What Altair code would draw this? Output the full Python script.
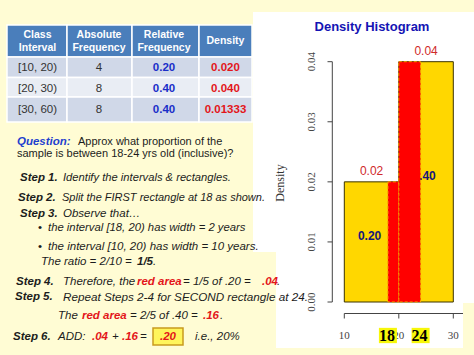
import altair as alt
import pandas as pd

# ---------------- table values ----------------
class_intervals = ["[10, 20)", "[20, 30)", "[30, 60)"]
abs_freq = ["4", "8", "8"]
rel_freq = ["0.20", "0.40", "0.40"]
density_text = ["0.020", "0.040", "0.01333"]
header_lines = [["Class", "Interval"], ["Absolute", "Frequency"],
                ["Relative", "Frequency"], ["Density"]]

# ---------------- histogram values ----------------
bin_lo = [10, 20]
bin_hi = [20, 30]
bin_density = [0.02, 0.04]
bin_rel_lbl = ["0.20", "0.40"]
bin_dens_lbl = ["0.02", "0.04"]
red_lo = [18, 20]
red_hi = [20, 24]
red_density = [0.02, 0.04]
x_ticks = [10, 20, 30]
x_tick_labels = ["10", "20", "30"]
y_ticks = [0.0, 0.01, 0.02, 0.03, 0.04]
y_tick_labels = ["0.00", "0.01", "0.02", "0.03", "0.04"]
x_axis_span = [10, 60]
marked_ages = [18, 24]
marked_labels = ["18", "24"]

# ---------------- styles / layout ----------------
SANS = "Liberation Sans"
SERIF = "Liberation Serif"
BG = "#FFFCD4"
DARK = "#1c1c1c"
RED = "#e3151a"
BLUE = "#1f3fcf"

X = alt.Scale(domain=[10, 30], range=[344.3, 453.3], nice=False, zero=False)
Y = alt.Scale(domain=[0, 0.04], range=[302, 61.7], nice=False, zero=False)


def px(field):
    return alt.X(field, type="quantitative", scale=None, axis=None)


def py(field):
    return alt.Y(field, type="quantitative", scale=None, axis=None)


def rect_layer(rows):
    df = pd.DataFrame(rows, columns=["x", "x2", "y", "y2", "fill", "stroke", "sw"])
    return alt.Chart(df).mark_rect().encode(
        x=px("x"), x2="x2", y=py("y"), y2="y2",
        fill=alt.Fill("fill:N", scale=None),
        stroke=alt.Stroke("stroke:N", scale=None),
        strokeWidth=alt.StrokeWidth("sw:Q", scale=None),
    )


def text_layer(rows, weight="normal", style="normal", font=SANS, align="left", angle=0):
    df = pd.DataFrame(rows, columns=["x", "y", "t", "c", "s"])
    return alt.Chart(df).mark_text(
        align=align, baseline="middle", font=font, fontWeight=weight,
        fontStyle=style, angle=angle,
    ).encode(
        x=px("x"), y=py("y"), text="t:N",
        color=alt.Color("c:N", scale=None),
        size=alt.Size("s:Q", scale=None),
    )


layers = []

# white panel behind the histogram
layers.append(rect_layer([[253, 474, 12, 348, "#ffffff", "#ffffff", 0]]))

# ---------------- table ----------------
col_edges = [7, 67, 132, 199, 252]
row_edges = [25, 57, 77.5, 97, 122]
row_fills = ["#4A7EBB", "#D0D8E8", "#E9EDF4", "#D0D8E8"]
cells = []
for r in range(4):
    for c in range(4):
        cells.append([col_edges[c], col_edges[c + 1], row_edges[r], row_edges[r + 1],
                      row_fills[r], "#ffffff", 1.5])
layers.append(rect_layer(cells))

col_centers = [37.5, 99, 164, 225.5]
hdr = []
for c, lines in enumerate(header_lines):
    ys = [34.5, 47.5] if len(lines) == 2 else [41]
    for t, yy in zip(lines, ys):
        hdr.append([col_centers[c], yy, t, "#ffffff", 10.5])
layers.append(text_layer(hdr, weight="bold", align="center"))

row_y = [68, 88.5, 110]
plain_cells, bold_cells = [], []
for i in range(3):
    plain_cells.append([col_centers[0], row_y[i], class_intervals[i], "#333333", 11.5])
    plain_cells.append([col_centers[1], row_y[i], abs_freq[i], "#333333", 11.5])
    bold_cells.append([col_centers[2], row_y[i], rel_freq[i], "#1a2ec8", 11.5])
    bold_cells.append([col_centers[3], row_y[i], density_text[i], RED, 11.5])
layers.append(text_layer(plain_cells, align="center"))
layers.append(text_layer(bold_cells, weight="bold", align="center"))

# ---------------- histogram ----------------
hist = pd.DataFrame({"lo": bin_lo, "hi": bin_hi, "d": bin_density,
                     "base": [0.0] * len(bin_lo), "rel": bin_rel_lbl, "dl": bin_dens_lbl})
hist["mid"] = (hist["lo"] + hist["hi"]) / 2
hist["half"] = hist["d"] / 2

layers.append(alt.Chart(hist).mark_rect(fill="#FFD700", stroke="#3b3300", strokeWidth=1).encode(
    x=alt.X("lo:Q", scale=X, axis=None), x2="hi",
    y=alt.Y("base:Q", scale=Y, axis=None), y2="d"))

layers.append(alt.Chart(hist).mark_text(font=SANS, fontSize=12, color="#d02a2a", dy=-11).encode(
    x=alt.X("mid:Q", scale=X, axis=None), y=alt.Y("d:Q", scale=Y, axis=None), text="dl:N"))
layers.append(alt.Chart(hist).mark_text(font=SANS, fontSize=12, fontWeight="bold",
                                        color="#16167a", dy=-6, dx=-2).encode(
    x=alt.X("mid:Q", scale=X, axis=None), y=alt.Y("half:Q", scale=Y, axis=None), text="rel:N"))

red = pd.DataFrame({"lo": red_lo, "hi": red_hi, "d": red_density, "base": [0.0] * len(red_lo)})
layers.append(alt.Chart(red).mark_rect(fill="#ff0000", stroke="#f5a300", strokeWidth=1,
                                       strokeDash=[3, 2]).encode(
    x=alt.X("lo:Q", scale=X, axis=None), x2="hi",
    y=alt.Y("base:Q", scale=Y, axis=None), y2="d"))

# axes drawn R style
AX = "#444444"
yt = pd.DataFrame({"v": y_ticks, "lab": y_tick_labels})
layers.append(alt.Chart(pd.DataFrame({"a": [y_ticks[0]], "b": [y_ticks[-1]]})).mark_rule(color=AX).encode(
    x=alt.value(332.3), y=alt.Y("a:Q", scale=Y, axis=None), y2="b"))
layers.append(alt.Chart(yt).mark_rule(color=AX).encode(
    x=alt.value(327.5), x2=alt.value(332.3), y=alt.Y("v:Q", scale=Y, axis=None)))
layers.append(alt.Chart(yt).mark_text(font=SERIF, fontSize=11, color="#444444", angle=270).encode(
    x=alt.value(312), y=alt.Y("v:Q", scale=Y, axis=None), text="lab:N"))

xt = pd.DataFrame({"v": x_ticks, "lab": x_tick_labels})
layers.append(alt.Chart(pd.DataFrame({"a": [x_axis_span[0]], "b": [x_axis_span[1]]})).mark_rule(color=AX).encode(
    y=alt.value(313.5), x=alt.X("a:Q", scale=X, axis=None), x2="b"))
layers.append(alt.Chart(xt).mark_rule(color=AX).encode(
    y=alt.value(313.5), y2=alt.value(318.5), x=alt.X("v:Q", scale=X, axis=None)))
layers.append(alt.Chart(xt).mark_text(font=SERIF, fontSize=11, color="#444444").encode(
    y=alt.value(335.5), x=alt.X("v:Q", scale=X, axis=None), text="lab:N"))

layers.append(text_layer([[372, 27, "Density Histogram", "#1414b4", 13]], weight="bold", align="center"))
layers.append(text_layer([[280, 183, "Density", "#333333", 12]], font=SERIF, align="center", angle=270))

# yellow slide boxes overlapping the panel
layers.append(rect_layer([
    [0, 276, 252, 355, BG, BG, 0],
    [463, 474, 303, 355, BG, BG, 0],
    [253, 474, 348, 355, BG, BG, 0],
]))

# highlighted ages under the x axis
marks = pd.DataFrame({"age": marked_ages, "lab": marked_labels})
layers.append(alt.Chart(marks).mark_point(
    shape="M-1,-0.85H1V0.85H-1Z", filled=True, size=324, color="#f7f70a", opacity=1, strokeWidth=0).encode(
    x=alt.X("age:Q", scale=X, axis=None), y=alt.value(335.5)))
layers.append(alt.Chart(marks).mark_text(font=SERIF, fontSize=16, fontWeight="bold", color="#000000", dx=-1).encode(
    x=alt.X("age:Q", scale=X, axis=None), y=alt.value(336), text="lab:N"))

# ---------------- slide text ----------------
FS = 11.5
segs = [
    (17, 142, "Question:", "bi", BLUE, 11.5),
    (78, 142, "Approx what proportion of the", "n", DARK, 11),
    (17, 154, "sample is between 18-24 yrs old (inclusive)?", "n", DARK, 11),
    (20, 178, "Step 1.", "bi", DARK, FS),
    (63, 178, "Identify the intervals & rectangles.", "i", DARK, 11.2),
    (18, 197.5, "Step 2.", "bi", DARK, FS),
    (62, 197.5, "Split the FIRST rectangle at 18 as shown.", "i", DARK, 11),
    (20, 214, "Step 3.", "bi", DARK, FS),
    (63, 214, "Observe that\u2026", "i", DARK, FS),
    (38, 228, "\u2022", "n", DARK, FS),
    (48, 228, "the interval [18, 20) has width = 2 years", "i", DARK, 11.3),
    (38, 246.5, "\u2022", "n", DARK, FS),
    (48, 246.5, "the interval [10, 20) has width = 10 years.", "i", DARK, FS),
    (41, 262, "The ratio = 2/10 =", "i", DARK, FS),
    (137, 262, "1/5", "bi", DARK, FS),
    (153, 262, ".", "i", DARK, FS),
    (16, 281.5, "Step 4.", "bi", DARK, FS),
    (63, 281.5, "Therefore, the", "i", DARK, FS),
    (137, 281.5, "red area", "bi", RED, FS),
    (183, 281.5, "= 1/5 of .20 =", "i", DARK, FS),
    (262, 281.5, ".04", "bi", RED, FS),
    (277, 281.5, ".", "i", DARK, FS),
    (15, 297, "Step 5.", "bi", DARK, FS),
    (63, 297, "Repeat Steps 2-4 for SECOND rectangle at 24.", "i", DARK, 11.7),
    (58, 316, "The", "i", DARK, FS),
    (82, 316, "red area", "bi", RED, FS),
    (130, 316, "= 2/5 of .40 =", "i", DARK, FS),
    (203, 316, ".16", "bi", RED, FS),
    (220, 316, ".", "i", DARK, FS),
    (13, 337, "Step 6.", "bi", DARK, FS),
    (58, 337, "ADD:", "i", DARK, FS),
    (92, 337, ".04", "bi", RED, FS),
    (112, 337, "+", "i", DARK, FS),
    (122, 337, ".16", "bi", RED, FS),
    (140, 337, "=", "i", DARK, FS),
    (195, 337, "i.e., 20%", "i", DARK, FS),
]
style_map = {"n": ("normal", "normal"), "i": ("normal", "italic"),
             "b": ("bold", "normal"), "bi": ("bold", "italic")}
for key, (w, s) in style_map.items():
    rows = [[x, y, t, c, fs] for (x, y, t, k, c, fs) in segs if k == key]
    if rows:
        layers.append(text_layer(rows, weight=w, style=s))

# answer box
layers.append(rect_layer([[153, 183, 328, 345, "#FFF55C", "#c99a1e", 1.5]]))
layers.append(text_layer([[168, 336.5, ".20", RED, FS]], weight="bold", style="italic", align="center"))

chart = alt.layer(*layers).properties(
    width=474, height=355,
    autosize=alt.AutoSizeParams(type="none"),
    padding=0,
).configure(background=BG).configure_view(strokeWidth=0)

chart.save("out.html", embed_options={"renderer": "svg", "actions": False})
